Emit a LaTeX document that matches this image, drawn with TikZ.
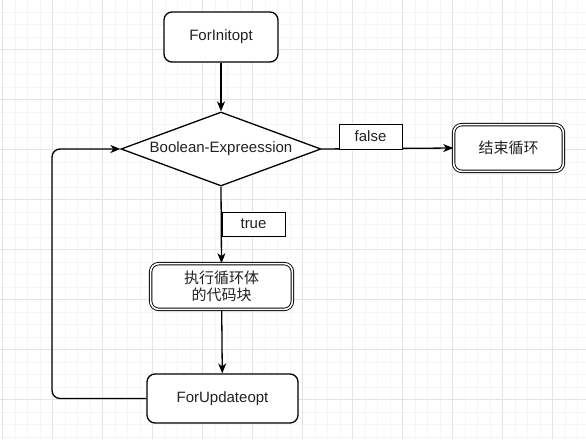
\documentclass[tikz,border=0pt]{standalone}
\usepackage{fontspec}
\setmainfont{Liberation Sans}
\newfontfamily\cjk{Noto Sans CJK SC}
\usetikzlibrary{arrows.meta,shapes.geometric}
\definecolor{gminor}{HTML}{F5F5F5}
\definecolor{gmajor}{HTML}{E4E4E4}
\definecolor{txt}{HTML}{222222}
\begin{document}
\begin{tikzpicture}[x=1pt,y=-1pt,
  lbl/.style={font=\fontsize{15}{17}\selectfont, text=txt},
  box/.style={lbl, draw, rounded corners=8pt, line width=1.3pt, fill=white, inner sep=0pt, align=center},
  dbox/.style={lbl, draw, rounded corners=8pt, line width=0.9pt, double=white, double distance=1.6pt, fill=white, inner sep=0pt, align=center},
  cbox/.style={lbl, draw, line width=1pt, fill=white, inner sep=0pt},
  flow/.style={line width=1.3pt, -{Stealth[length=10pt,width=8pt,inset=3pt]}},
  gmin/.style={gminor, line width=1pt},
  gmaj/.style={gmajor, line width=1pt}]
\useasboundingbox (0,0) rectangle (586,439);
\fill[white] (0,0) rectangle (586,439);
\foreach \i in {0,...,47} \draw[gmin] ({2.5+12.5*\i},0) -- ({2.5+12.5*\i},439);
\foreach \i in {0,...,36} \draw[gmin] (0,{-0.5+12.5*\i}) -- (586,{-0.5+12.5*\i});
\foreach \i in {0,...,11} \draw[gmaj] ({2.5+50*\i},0) -- ({2.5+50*\i},439);
\foreach \i in {0,...,8} \draw[gmaj] (0,{49.5+50*\i}) -- (586,{49.5+50*\i});

\node[box, minimum width=114pt, minimum height=50pt] (init) at (221,37) {ForInitopt};
\node[lbl, draw, diamond, line width=1.3pt, fill=white, inner sep=0pt, aspect=2.7,
      minimum width=200pt, minimum height=74pt] (cond) at (221,149) {Boolean-Expreession};
\node[dbox, minimum width=109.7pt, minimum height=46.7pt] (endn) at (508.5,148) {\cjk 结束循环};
\node[dbox, minimum width=141.7pt, minimum height=45.7pt] (blk) at (221.5,286.5) {\cjk 执行循环体\\\cjk 的代码块};
\node[box, minimum width=151pt, minimum height=49pt] (upd) at (222.5,398.5) {ForUpdateopt};
\coordinate (lp) at (52,149);

\draw[flow] (init) -- (cond);
\draw[flow] (cond.east) -- (endn.west);
\draw[flow] (cond.south) -- (blk.north);
\draw[flow] (blk) -- (upd);
\draw[flow, rounded corners=8pt] (upd.west) -| (lp) -- (cond.west);

\node[cbox, minimum width=63pt, minimum height=25pt] (fl) at (370.5,136.5) {false};
\node[cbox, minimum width=63pt, minimum height=24pt] (tl) at (253.5,224) {true};
\end{tikzpicture}
\end{document}
